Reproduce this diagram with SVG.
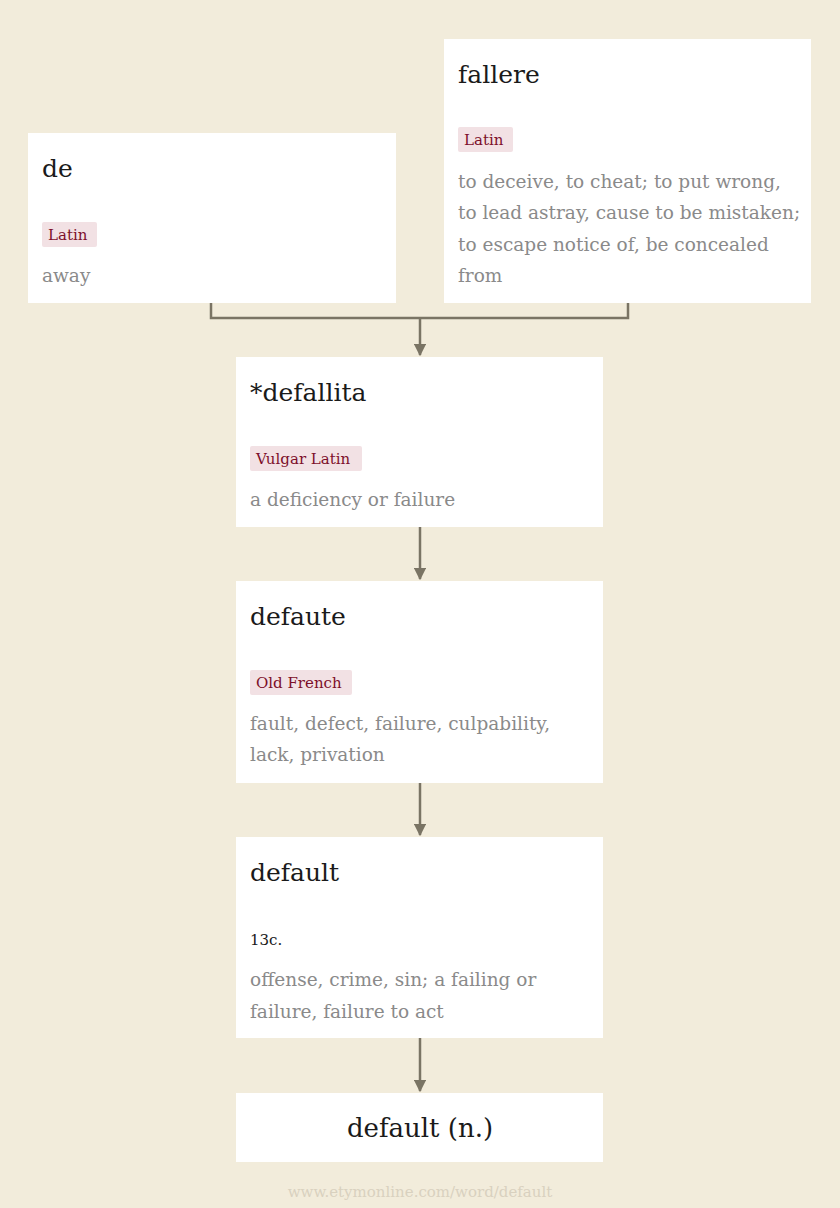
<svg xmlns="http://www.w3.org/2000/svg" width="840" height="1208" viewBox="0 0 840 1208">
<defs>
<style>
.box{fill:#ffffff}
.title{font-family:"DejaVu Serif","Liberation Serif",serif;font-size:25px;fill:#1a1a1a}
.tagbg{fill:#f2e1e4}
.tag{font-family:"DejaVu Serif","Liberation Serif",serif;font-size:15px;fill:#7d0f2a}
.gloss{font-family:"DejaVu Serif","Liberation Serif",serif;font-size:18.5px;fill:#8a8a8a}
.date{font-family:"DejaVu Serif","Liberation Serif",serif;font-size:15px;fill:#1a1a1a}
.conn{fill:none;stroke:#7a7464;stroke-width:2.5}
.foot{font-family:"DejaVu Serif","Liberation Serif",serif;font-size:15px;fill:#d9d1bf}
</style>
<marker id="arr" viewBox="0 0 10 10" refX="9" refY="5" markerWidth="5" markerHeight="5" markerUnits="strokeWidth" orient="auto">
<path d="M0,0 L10,5 L0,10 Z" fill="#7a7464"/>
</marker>
</defs>
<rect x="0" y="0" width="840" height="1208" fill="#f2ecdb"/>
<g id="connectors">
<path class="conn" d="M211,303 V318 H628 V303"/>
<path class="conn" d="M420,318 V355" marker-end="url(#arr)"/>
<path class="conn" d="M420,527 V579" marker-end="url(#arr)"/>
<path class="conn" d="M420,783 V835" marker-end="url(#arr)"/>
<path class="conn" d="M420,1038 V1091" marker-end="url(#arr)"/>
</g>
<g id="node-de">
<rect class="box" x="28" y="133" width="368" height="170"/>
<text class="title" x="42" y="177">de</text>
<rect class="tagbg" x="42" y="222" width="55" height="25" rx="2"/>
<text class="tag" x="48" y="240">Latin</text>
<text class="gloss" x="42" y="282">away</text>
</g>
<g id="node-fallere">
<rect class="box" x="444" y="39" width="367" height="264"/>
<text class="title" x="458" y="83">fallere</text>
<rect class="tagbg" x="458" y="127" width="55" height="25" rx="2"/>
<text class="tag" x="464" y="145">Latin</text>
<text class="gloss" x="458" y="188">to deceive, to cheat; to put wrong,</text>
<text class="gloss" x="458" y="219">to lead astray, cause to be mistaken;</text>
<text class="gloss" x="458" y="251">to escape notice of, be concealed</text>
<text class="gloss" x="458" y="282">from</text>
</g>
<g id="node-defallita">
<rect class="box" x="236" y="357" width="367" height="170"/>
<text class="title" x="250" y="401">*defallita</text>
<rect class="tagbg" x="250" y="446" width="112" height="25" rx="2"/>
<text class="tag" x="256" y="464">Vulgar Latin</text>
<text class="gloss" x="250" y="506">a deficiency or failure</text>
</g>
<g id="node-defaute">
<rect class="box" x="236" y="581" width="367" height="202"/>
<text class="title" x="250" y="625">defaute</text>
<rect class="tagbg" x="250" y="670" width="102" height="25" rx="2"/>
<text class="tag" x="256" y="688">Old French</text>
<text class="gloss" x="250" y="730">fault, defect, failure, culpability,</text>
<text class="gloss" x="250" y="761">lack, privation</text>
</g>
<g id="node-default">
<rect class="box" x="236" y="837" width="367" height="201"/>
<text class="title" x="250" y="881">default</text>
<text class="date" x="250" y="945">13c.</text>
<text class="gloss" x="250" y="986">offense, crime, sin; a failing or</text>
<text class="gloss" x="250" y="1018">failure, failure to act</text>
</g>
<g id="node-default-n">
<rect class="box" x="236" y="1093" width="367" height="69"/>
<text class="title" x="420" y="1137" text-anchor="middle" style="font-size:26px">default (n.)</text>
</g>
<text class="foot" x="420" y="1197" text-anchor="middle">www.etymonline.com/word/default</text>
</svg>
